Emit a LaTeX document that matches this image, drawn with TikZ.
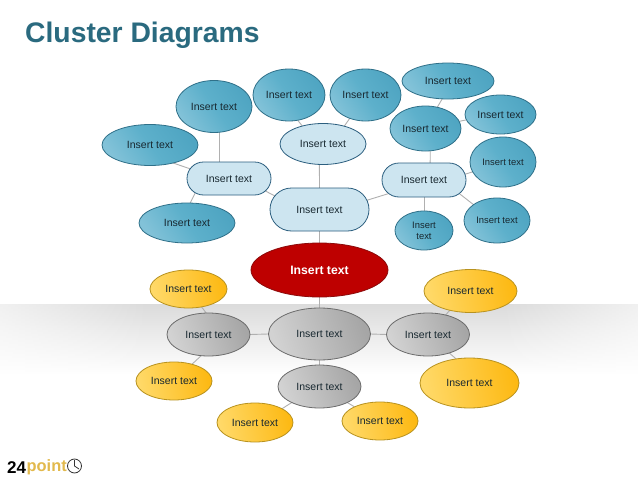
\documentclass[tikz,border=0pt]{standalone}
\usepackage{fontspec}
\setmainfont{Liberation Sans}
\usetikzlibrary{shapes.geometric,shapes.misc,backgrounds,fadings}
\definecolor{bluemid}{HTML}{5DB0CB}
\definecolor{bluelite}{HTML}{82C2D8}
\definecolor{bluedark}{HTML}{4FA5C2}
\definecolor{blueedge}{HTML}{2F7089}
\definecolor{palefill}{HTML}{CDE5F0}
\definecolor{paleedge}{HTML}{2C5F7F}
\definecolor{redfill}{HTML}{BE0000}
\definecolor{rededge}{HTML}{8C0A0A}
\definecolor{orlite}{HTML}{FFD968}
\definecolor{ordark}{HTML}{FDB913}
\definecolor{oredge}{HTML}{B8921F}
\definecolor{gylite}{HTML}{D2D2D2}
\definecolor{gydark}{HTML}{A6A6A6}
\definecolor{gyedge}{HTML}{6C6C6C}
\definecolor{linkc}{HTML}{B0B0B0}
\definecolor{titlec}{HTML}{2A6A7F}
\definecolor{inkc}{HTML}{182830}
\definecolor{goldc}{HTML}{E2B94C}
\tikzfading[name=fadeL,left color=transparent!0,right color=transparent!100]
\tikzfading[name=fadeR,left color=transparent!100,right color=transparent!0]
\tikzset{
  base/.style={inner sep=0pt,outer sep=0pt,align=center,line width=0.8pt,text=inkc,font=\fontsize{10.5}{11}\selectfont},
  wh/.style 2 args={minimum width=#1pt,minimum height=#2pt},
  blu/.style={base,ellipse,draw=blueedge,left color=bluelite,right color=bluedark,middle color=bluemid,shading angle=125},
  pale/.style={base,rounded rectangle,draw=paleedge,fill=palefill},
  paleell/.style={base,ellipse,draw=paleedge,fill=palefill},
  org/.style={base,ellipse,draw=oredge,left color=orlite,right color=ordark,shading angle=100},
  gry/.style={base,ellipse,draw=gyedge,left color=gylite,right color=gydark,shading angle=110},
  redn/.style={base,ellipse,draw=rededge,fill=redfill,text=white,font=\fontsize{12.2}{13}\selectfont\bfseries},
  small/.style={font=\fontsize{9.4}{11}\selectfont},
  link/.style={draw=linkc,line width=0.9pt}
}
\begin{document}
\begin{tikzpicture}[x=1pt,y=-1pt]
\useasboundingbox (0,0) rectangle (638,479);
\node[anchor=base west,inner sep=0pt,text=titlec,font=\fontsize{28.3}{30}\selectfont\bfseries] (title) at (25,42) {Cluster Diagrams};
% upper cluster
\node[blu,wh={76}{52}] (a1) at (214,106.5) {Insert text};
\node[blu,wh={96}{41}] (a2) at (150,145) {Insert text};
\node[blu,wh={96}{40}] (a3) at (187,223) {Insert text};
\node[pale,wh={84}{33}] (r1) at (229,178.5) {Insert text};
\node[blu,wh={72}{52}] (b1) at (289,95) {Insert text};
\node[paleell,wh={86}{41}] (b2) at (323,144) {Insert text};
\node[blu,wh={71}{52}] (b3) at (365.5,95) {Insert text};
\node[pale,wh={99}{43}] (c) at (319.5,209.5) {Insert text};
\node[pale,wh={84}{34}] (r3) at (424,180) {Insert text};
\node[blu,wh={92}{36}] (d1) at (448,81) {Insert text};
\node[blu,wh={71}{45}] (d2) at (425.5,128.5) {Insert text};
\node[blu,wh={71}{39}] (d3) at (500.5,114.5) {Insert text};
\node[blu,small,wh={66}{50}] (d4) at (503,162) {Insert text};
\node[blu,small,wh={58}{39}] (d5) at (424,230.5) {Insert\\text};
\node[blu,small,wh={66}{45}] (d6) at (497,220.5) {Insert text};
\node[redn,wh={137}{54}] (m) at (319.5,270) {Insert text};
% lower cluster
\node[gry,wh={102}{52}] (g0) at (319.5,334) {Insert text};
\node[gry,wh={83}{43}] (g1) at (208.5,334.5) {Insert text};
\node[gry,wh={83}{43}] (g2) at (319.5,386.5) {Insert text};
\node[gry,wh={83}{43}] (g3) at (428,334.5) {Insert text};
\node[org,wh={77}{38}] (e1) at (188.5,289) {Insert text};
\node[org,wh={76}{38}] (e2) at (174,381) {Insert text};
\node[org,wh={76}{39}] (e3) at (255,422.5) {Insert text};
\node[org,wh={76}{38}] (e4) at (380,421) {Insert text};
\node[org,wh={93}{43}] (e5) at (470.5,291) {Insert text};
\node[org,wh={99}{50}] (e6) at (469.5,383) {Insert text};
% logo
\node[anchor=base west,inner sep=0pt,text=black,font=\fontsize{17}{18}\selectfont\bfseries] (lg1) at (7,473) {24};
\node[anchor=base west,inner sep=0pt,text=goldc,font=\fontsize{16.4}{18}\selectfont\bfseries] (lg2) at (26.5,471) {point};
\node[circle,draw=black!80,line width=0.8pt,minimum size=14pt,inner sep=0pt] (clk) at (74.5,466) {};
\draw[black!80,line width=0.7pt] (74.5,460) -- (clk.center) -- (79,469);
\begin{scope}[on background layer]
  \fill[white] (0,0) rectangle (638,479);
  \shade[top color=black!14,bottom color=white] (0,304) rectangle (638,374);
  \fill[white,path fading=fadeL,opacity=0.6] (0,304) rectangle (150,374);
  \fill[white,path fading=fadeR,opacity=0.6] (500,304) rectangle (638,374);
  % connectors
  \path[link] (a1.-78) -- (r1.120);
  \path[link] (a2.-38) -- (r1.166);
  \path[link] (a3.81.5) -- (r1.203);
  \path[link] (r1.-19) -- (c.163);
  \path[link] (c.north) -- (b2.-100);
  \path[link] (b2.139.4) -- (b1.-71);
  \path[link] (b2.40.8) -- (b3.-124.5);
  \path[link] (c.11) -- (r3.-159);
  \path[link] (r3.70.6) -- (d2.-78.7);
  \path[link] (d2.61.9) -- (d1.-108.4);
  \path[link] (d2.12.3) -- (d3.189);
  \path[link] (r3.8.3) -- (d4.-162);
  \path[link] (r3.south) -- (d5.north);
  \path[link] (r3.-21.8) -- (d6.146.6);
  \path[link] (c.south) -- (m.north);
  \path[link] (m.south) -- (g0.north);
  \path[link] (e1.-54.6) -- (g1.96.6);
  \path[link] (g1.-109) -- (e2.43.4);
  \path[link] (g1.east) -- (g0.west);
  \path[link] (g0.south) -- (g2.north);
  \path[link] (g2.-150) -- (e3.27.8);
  \path[link] (g2.-30.2) -- (e4.151.4);
  \path[link] (g0.east) -- (g3.west);
  \path[link] (g3.48.5) -- (e5.-137);
  \path[link] (g3.-41.4) -- (e6.119.4);
\end{scope}
\end{tikzpicture}
\end{document}
